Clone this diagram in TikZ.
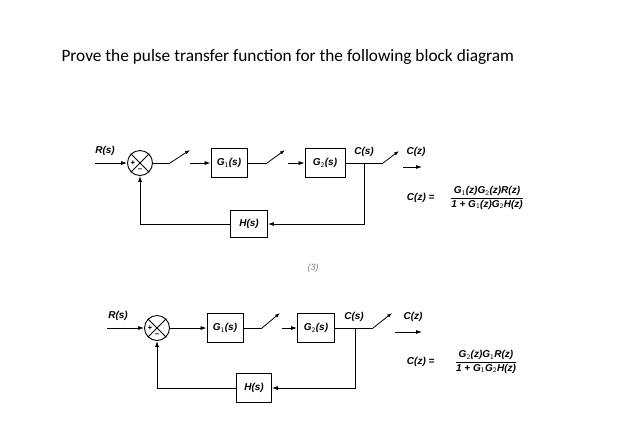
\documentclass[tikz,border=0pt]{standalone}
\usepackage{fontspec}
\setmainfont{Liberation Sans}
\newfontfamily\titlefont{Carlito}
\usetikzlibrary{arrows.meta,calc}
\newcommand{\sbx}[1]{\ensuremath{_{\mathsf{#1}}}}
\newcommand{\ft}[2]{$\displaystyle\frac{\hbox{\bfseries\itshape #1}}{\hbox{\bfseries\itshape #2}}$}
\begin{document}
\begin{tikzpicture}[x=1pt,y=-1pt,
  blk/.style={draw,line width=0.9pt,minimum width=36pt,minimum height=29pt,inner sep=0pt,font=\bfseries\itshape\fontsize{10}{11}\selectfont},
  sumj/.style={draw,circle,line width=0.9pt,minimum size=25pt,inner sep=0pt},
  lbl/.style={font=\bfseries\itshape\fontsize{10}{11}\selectfont},
  sgn/.style={font=\bfseries\fontsize{8}{8}\selectfont,inner sep=0pt},
  arr/.style={-{Latex[length=6pt,width=4pt]},line width=0.8pt},
  ln/.style={line width=0.8pt},
  sw/.style={-{Latex[length=5pt,width=3.5pt]},line width=0.8pt}]
\useasboundingbox (0,0) rectangle (617,424);
\node[anchor=west,font=\titlefont\fontsize{17.3}{19}\selectfont] (title) at (58,57) {Prove the pulse transfer function for the following block diagram};
% ---------- diagram 1
\node[sumj] (s1) at (140,163) {};
\draw[ln] (s1.north west) -- (s1.south east) (s1.north east) -- (s1.south west);
\node[sgn] (p1) at ($(s1)+(-7,0)$) {+};
\node[sgn] (m1) at ($(s1)+(0,7.5)$) {–};
\coordinate (r1) at (95,163);
\node[lbl] (rl1) at (105,151) {R(s)};
\draw[arr] (r1) -- (s1);
\coordinate (a1) at (170,163); \coordinate (a1t) at (190,150);
\draw[ln] (s1) -- (a1); \draw[sw] (a1) -- (a1t);
\node[blk] (g11) at (229,163) {G\sbx{1}(s)};
\coordinate (b1) at (190,163);
\draw[arr] (b1) -- (g11);
\coordinate (a2) at (267,163); \coordinate (a2t) at (285,150);
\draw[ln] (g11) -- (a2); \draw[sw] (a2) -- (a2t);
\node[blk,minimum width=40pt] (g21) at (325,163) {G\sbx{2}(s)};
\coordinate (b2) at (288,163);
\draw[arr] (b2) -- (g21);
\coordinate (br1) at (364,163);
\coordinate (a3) at (383,163); \coordinate (a3t) at (399,151);
\draw[ln] (g21) -- (a3); \draw[sw] (a3) -- (a3t);
\node[lbl] (cs1) at (364,152) {C(s)};
\node[lbl] (cz1) at (416,152) {C(z)};
\coordinate (o1a) at (403,167); \coordinate (o1b) at (422,167);
\draw[arr] (o1a) -- (o1b);
\node[blk,minimum width=37pt,minimum height=27pt] (h1) at (249,224) {H(s)};
\draw[arr] (br1) |- (h1);
\draw[arr] (h1) -| (s1);
\node[lbl,anchor=east] (eq1) at (438,198) {C(z) =};
\node[lbl] (fr1) at (487,198) {\ft{G\sbx{1}(z)G\sbx{2}(z)R(z)}{1 + G\sbx{1}(z)G\sbx{2}H(z)}};
\node[font=\small\itshape,text=gray] (three) at (313,268) {(3)};
% ---------- diagram 2
\node[sumj] (s2) at (157,328) {};
\draw[ln] (s2.north west) -- (s2.south east) (s2.north east) -- (s2.south west);
\node[sgn] (p2) at ($(s2)+(-7,0)$) {+};
\node[sgn] (m2) at ($(s2)+(0,7.5)$) {–};
\coordinate (r2) at (107,328);
\node[lbl] (rl2) at (118,316) {R(s)};
\draw[arr] (r2) -- (s2);
\node[blk] (g12) at (225,328) {G\sbx{1}(s)};
\draw[arr] (s2) -- (g12);
\coordinate (c1) at (262,328); \coordinate (c1t) at (280,313);
\draw[ln] (g12) -- (c1); \draw[sw] (c1) -- (c1t);
\node[blk,minimum width=37pt] (g22) at (316,328) {G\sbx{2}(s)};
\coordinate (d1) at (282,328);
\draw[arr] (d1) -- (g22);
\coordinate (br2) at (355,328);
\coordinate (c2) at (373,328); \coordinate (c2t) at (392,313);
\draw[ln] (g22) -- (c2); \draw[sw] (c2) -- (c2t);
\node[lbl] (cs2) at (354,317) {C(s)};
\node[lbl] (cz2) at (413,317) {C(z)};
\coordinate (o2a) at (395,332); \coordinate (o2b) at (422,332);
\draw[arr] (o2a) -- (o2b);
\node[blk,minimum width=35pt,minimum height=29pt] (h2) at (254,388) {H(s)};
\draw[arr] (br2) |- (h2);
\draw[arr] (h2) -| (s2);
\node[lbl,anchor=east] (eq2) at (438,362) {C(z) =};
\node[lbl] (fr2) at (486,362) {\ft{G\sbx{2}(z)G\sbx{1}R(z)}{1 + G\sbx{1}G\sbx{2}H(z)}};
\end{tikzpicture}
\end{document}
